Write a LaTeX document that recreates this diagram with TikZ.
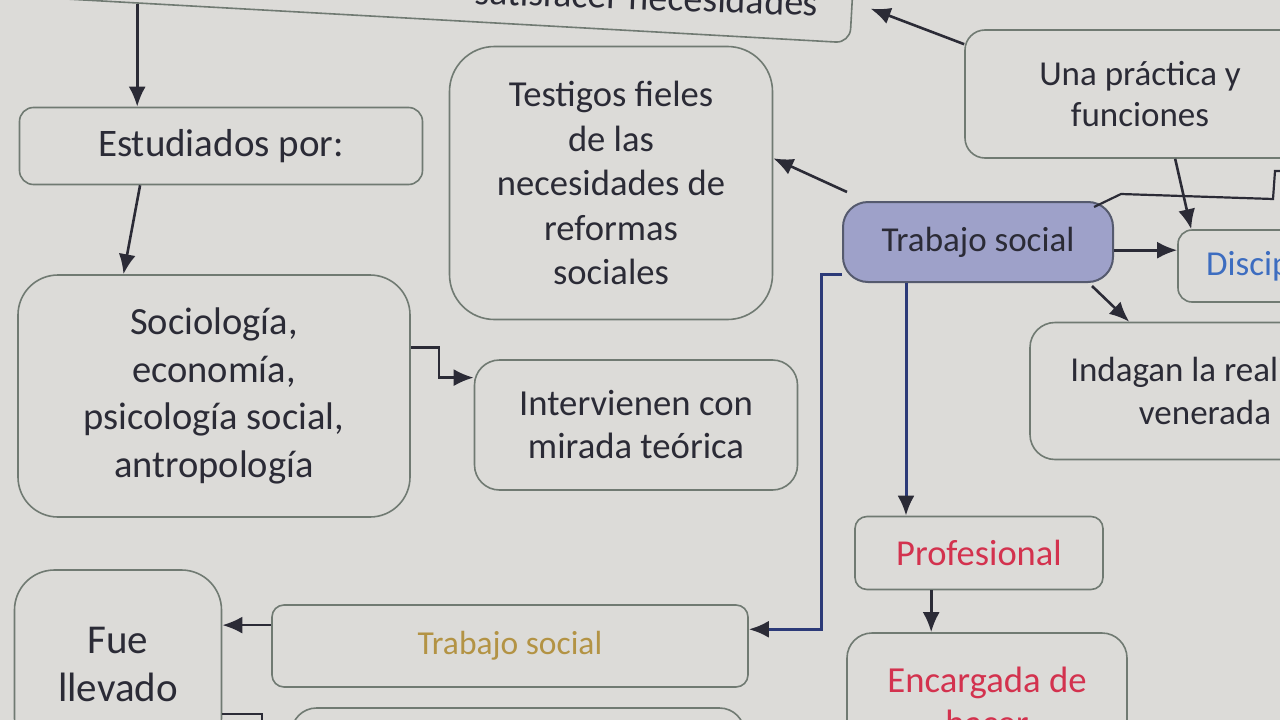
\documentclass[tikz,border=0pt]{standalone}
\usepackage{fontspec}
\setmainfont{Carlito}
\usetikzlibrary{arrows.meta,calc}
\definecolor{bg}{HTML}{DCDBD8}
\definecolor{boxline}{HTML}{707A72}
\definecolor{ink}{HTML}{2B2B36}
\definecolor{lav}{HTML}{9EA1C9}
\definecolor{lavline}{HTML}{555A6E}
\definecolor{navy}{HTML}{2C3A78}
\definecolor{redt}{HTML}{D3324E}
\definecolor{gold}{HTML}{B39344}
\definecolor{bluet}{HTML}{3D6DC0}
\tikzset{
  box/.style={draw=boxline, line width=1.6pt, fill=bg, rounded corners=#1, inner sep=0pt,
    align=center, text=ink, font=\fontsize{35}{45}\selectfont},
  box/.default=14pt,
  arr/.style={draw=ink, line width=2.6pt, -{Latex[length=20pt,width=17pt]}},
  barr/.style={draw=navy, line width=3pt, -{Latex[length=20pt,width=17pt,color=ink]}},
  conn/.style={draw=ink, line width=2.2pt},
}
\begin{document}
\begin{tikzpicture}[x=1pt,y=-1pt]
\useasboundingbox (0,0) rectangle (1280,720);
\clip (0,0) rectangle (1280,720);
\fill[bg] (-10,-10) rectangle (1290,730);

% boxes
\node[box=14pt, rotate=-3.2, minimum width=1000pt, minimum height=120pt] (top) at (354,-45) {};
\node[rotate=-2, anchor=base east, text=ink, font=\fontsize{38}{45}\selectfont, inner sep=0pt] (toptext) at (818,16) {satisfacer necesidades};

\node[box=14pt, minimum width=403pt, minimum height=77pt, font=\fontsize{39}{47}\selectfont] (est) at (221,146) {Estudiados por:};
\node[box=40pt, minimum width=392pt, minimum height=242pt, font=\fontsize{38.5}{47.5}\selectfont] (soc) at (214,396)
  {Sociología,\\economía,\\psicología social,\\antropología};
\node[box=25pt, minimum width=323pt, minimum height=130pt, font=\fontsize{36.7}{43}\selectfont] (int) at (636,425)
  {Intervienen con\\mirada teórica};
\node[box=45pt, minimum width=323pt, minimum height=273pt, font=\fontsize{36.6}{44.5}\selectfont] (test) at (611,183)
  {Testigos fieles\\de las\\necesidades de\\reformas\\sociales};
\node[box=25pt, minimum width=270pt, minimum height=80pt, fill=lav, draw=lavline, line width=2pt] (ts) at (978,242)
  {Trabajo social};
\node[box=20pt, minimum width=350pt, minimum height=128pt, font=\fontsize{35}{41}\selectfont] (una) at (1140,94)
  {Una práctica y\\funciones};
\node[box=14pt, minimum width=192pt, minimum height=72pt, text=bluet] (disc) at (1274,266)
  {Disciplina};
\node[box=25pt, minimum width=350pt, minimum height=137pt, font=\fontsize{35}{43}\selectfont] (ind) at (1205,391)
  {Indagan la realidad\\venerada};
\node[box=12pt, minimum width=248pt, minimum height=73pt, text=redt, font=\fontsize{36.5}{44}\selectfont] (prof) at (979,553)
  {Profesional};
\node[box=25pt, minimum width=280pt, minimum height=136pt, text=redt, font=\fontsize{36.7}{43}\selectfont] (enc) at (987,701)
  {Encargada de\\hacer};
\node[box=12pt, minimum width=476pt, minimum height=82pt, text=gold, font=\fontsize{33.5}{40}\selectfont] (ts2) at (510,646)
  {Trabajo social};
\node[box=40pt, minimum width=207pt, minimum height=188pt, font=\fontsize{41}{48}\selectfont] (fue) at (118,664)
  {Fue\\llevado};
\node[box=25pt, minimum width=453pt, minimum height=92pt] (bot) at (518,754) {};

% connector points
\coordinate (a1) at ($(top.south west)!0.2866!(top.south east)$);
\coordinate (a2s) at ($(est.south west)!0.3!(est.south east)$);
\coordinate (a2e) at ($(soc.north west)!0.27!(soc.north east)$);
\coordinate (a3s) at ($(soc.north east)!0.3!(soc.south east)$);
\coordinate (a3e) at ($(int.north west)!0.14!(int.south west)$);
\coordinate (a4e) at ($(test.north east)!0.41!(test.south east)$);
\coordinate (a6s) at ($(una.south west)!0.6!(una.south east)$);
\coordinate (a7s) at ($(ts.north east)!0.6!(ts.south east)$);
\coordinate (a10s) at ($(ts.south west)+(64,0)$);
\coordinate (a11e) at ($(ts2.north east)!0.3!(ts2.south east)$);
\coordinate (a12s) at ($(prof.south west)+(77,0)$);
\coordinate (a13s) at ($(ts2.north west)!0.25!(ts2.south west)$);

% connectors
\draw[arr] (a1) -- (a1 |- est.north);
\draw[arr] (a2s) -- (a2e);
\draw[arr] (a3s) -- ++(28,0) |- (a3e);
\draw[arr] ($(ts.north west)+(5,-9)$) -- (a4e);
\draw[arr] ($(una.north west)+(0,15)$) -- ($(top.south east)+(20,-35)$);
\draw[arr] (a6s) -- ($(disc.north west)+(14,0)$);
\draw[arr] (a7s) -- (a7s -| disc.west);
\draw[arr] ($(ts.south east)+(-22,3)$) -- ($(ind.north west)+(100,0)$);
\draw[conn] ($(ts.north east)+(-20,6)$) -- ++(27,-13) -- ++(152,5) -- ++(2,-28) -- ++(10,0);
\draw[barr] (a10s) -- (a10s |- prof.north);
\draw[barr] ($(ts.south west)+(0,-9)$) -- ++(-21,0) |- (a11e);
\draw[arr] (a12s) -- (a12s |- enc.north);
\draw[arr] (a13s) -- (a13s -| fue.east);
\draw[conn] ($(fue.north east)+(0,145)$) -- ++(40,0) -- ++(0,30);
\end{tikzpicture}
\end{document}
